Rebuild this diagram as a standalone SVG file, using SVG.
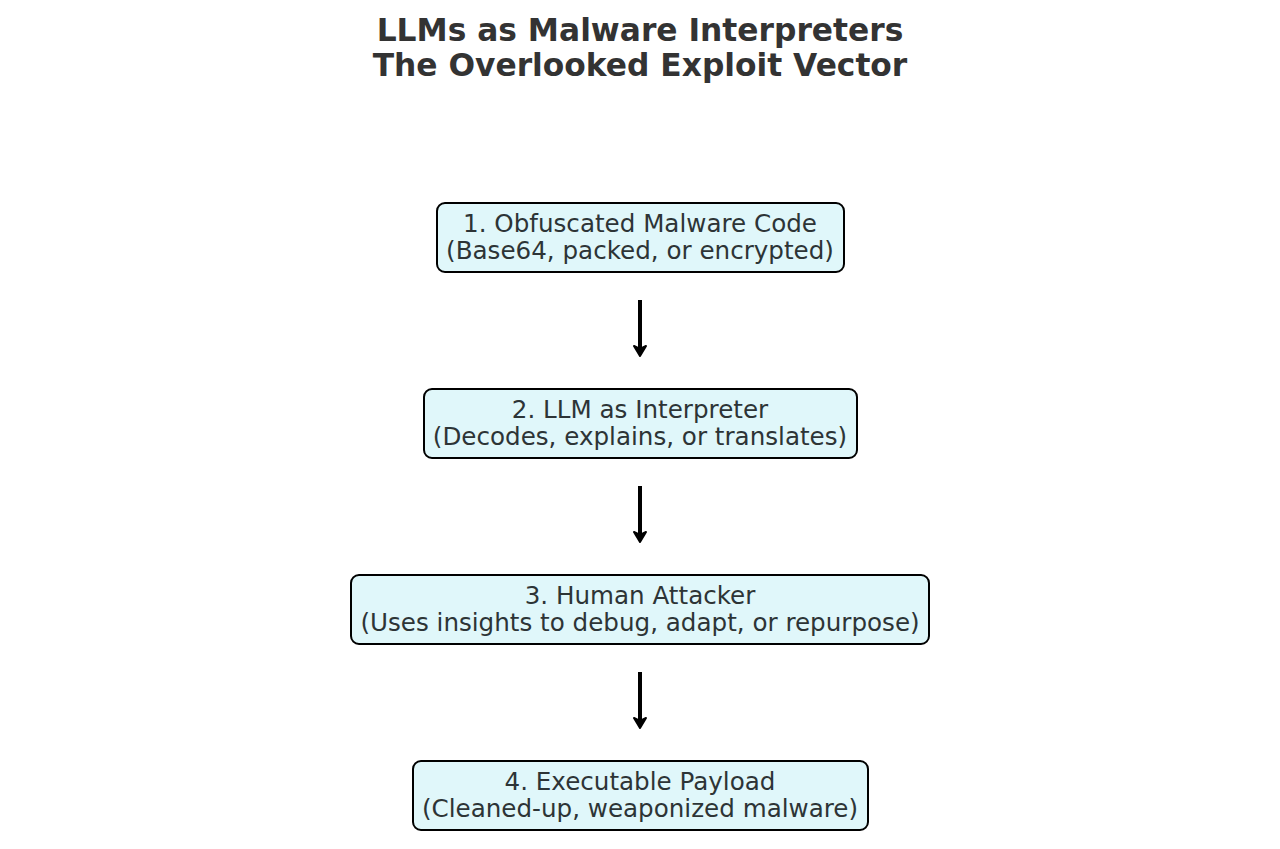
<svg xmlns="http://www.w3.org/2000/svg" width="1280" height="849" viewBox="0 0 1280 849">
<style>
.title{font-family:"DejaVu Sans",sans-serif;font-weight:bold;font-size:31.3px;fill:#333333;text-anchor:middle}
.box{fill:#e0f7fa;stroke:#000;stroke-width:2}
.lbl{font-family:"DejaVu Sans",sans-serif;font-size:24.6px;fill:#2d3436;text-anchor:middle}
.arr{stroke:#000;stroke-width:4;fill:none}
.head{fill:#000;stroke:#000;stroke-width:2;stroke-linejoin:round}
</style>
<rect width="1280" height="849" fill="#fff"/>
<g id="title">
<text class="title" x="640" y="41">LLMs as Malware Interpreters</text>
<text class="title" x="640" y="76">The Overlooked Exploit Vector</text>
</g>
<g id="connectors">
<path class="arr" d="M640 300V350"/>
<path class="head" d="M634 346L640 356L646 346L640 349Z"/>
<path class="arr" d="M640 486V536"/>
<path class="head" d="M634 532L640 542L646 532L640 535Z"/>
<path class="arr" d="M640 672V722"/>
<path class="head" d="M634 718L640 728L646 718L640 721Z"/>
</g>
<g id="node1">
<rect class="box" x="437" y="203" width="407" height="69" rx="8"/>
<text class="lbl" x="640" y="232">1. Obfuscated Malware Code</text>
<text class="lbl" x="640" y="259">(Base64, packed, or encrypted)</text>
</g>
<g id="node2">
<rect class="box" x="424" y="389" width="433" height="69" rx="8"/>
<text class="lbl" x="640" y="418">2. LLM as Interpreter</text>
<text class="lbl" x="640" y="445">(Decodes, explains, or translates)</text>
</g>
<g id="node3">
<rect class="box" x="351" y="575" width="578" height="69" rx="8"/>
<text class="lbl" x="640" y="604">3. Human Attacker</text>
<text class="lbl" x="640" y="631">(Uses insights to debug, adapt, or repurpose)</text>
</g>
<g id="node4">
<rect class="box" x="413" y="761" width="455" height="69" rx="8"/>
<text class="lbl" x="640" y="790">4. Executable Payload</text>
<text class="lbl" x="640" y="817">(Cleaned-up, weaponized malware)</text>
</g>
</svg>
